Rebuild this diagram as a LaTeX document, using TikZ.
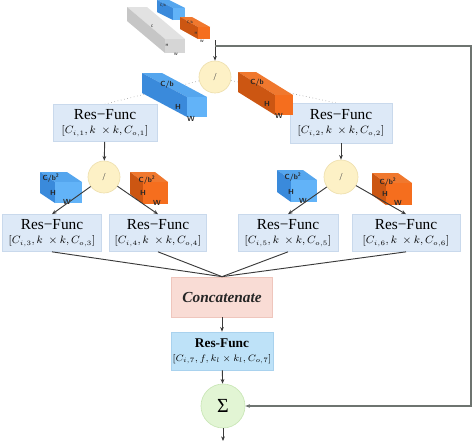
\documentclass[tikz,border=0pt]{standalone}
\usepackage{fontspec}
\setmainfont{Liberation Serif}
\usetikzlibrary{arrows.meta}
\definecolor{boxfill}{HTML}{DDE9F7}
\definecolor{boxline}{HTML}{C9D9EC}
\definecolor{box7fill}{HTML}{BEE2F8}
\definecolor{box7line}{HTML}{A9D2EE}
\definecolor{catfill}{HTML}{F9DCD5}
\definecolor{catline}{HTML}{EFC6BD}
\definecolor{divfill}{HTML}{FDF1C6}
\definecolor{divline}{HTML}{EEDFAE}
\definecolor{sumfill}{HTML}{E2F5D4}
\definecolor{sumline}{HTML}{C9E6B6}
\definecolor{btop}{HTML}{55A6EE}
\definecolor{bside}{HTML}{3A8ADB}
\definecolor{bfront}{HTML}{62B3F8}
\definecolor{otop}{HTML}{F0782E}
\definecolor{oside}{HTML}{CC5612}
\definecolor{ofront}{HTML}{F56E1E}
\definecolor{gtop}{HTML}{E2E2E2}
\definecolor{gside}{HTML}{C6C6C6}
\definecolor{gfront}{HTML}{D6D6D6}
\definecolor{conn}{HTML}{3A3A3A}
\definecolor{fb}{HTML}{6E7470}
\newcommand{\cuboid}[9]{%
  \fill[#7] (#1,#2) -- ({#1+#3},#2) -- ({#1+#3+#4},{#2+#5}) -- ({#1+#4},{#2+#5}) -- cycle;
  \fill[#8] (#1,#2) -- ({#1+#4},{#2+#5}) -- ({#1+#4},{#2+#5+#6}) -- (#1,{#2+#6}) -- cycle;
  \fill[#9] ({#1+#4},{#2+#5}) -- ({#1+#3+#4},{#2+#5}) -- ({#1+#3+#4},{#2+#5+#6}) -- ({#1+#4},{#2+#5+#6}) -- cycle;
}
\begin{document}
\begin{tikzpicture}[x=0.75pt,y=-0.75pt,
  resbox/.style={draw=boxline, fill=boxfill, line width=0.5pt, align=center, inner sep=1pt, minimum height=27.75pt},
  divc/.style={circle, draw=divline, fill=divfill, line width=0.5pt, minimum size=24pt, inner sep=0pt, font=\fontsize{8}{8}\selectfont, text=black!70},
  lbl/.style={font=\sffamily\bfseries\fontsize{5.5}{5.5}\selectfont, text=black!85, inner sep=0pt},
  tiny/.style={font=\sffamily\bfseries\fontsize{2.6}{2.6}\selectfont, text=black!80, inner sep=0pt},
  arr/.style={draw=conn, line width=0.7pt, -{Stealth[length=3.5pt,width=2.8pt]}},
  ln/.style={draw=conn, line width=0.7pt},
  dots/.style={draw=gray!70, line width=0.5pt, dotted}]
\useasboundingbox (0,0) rectangle (474,443);

% nodes
\node[divc] (c1) at (215,77) {/};
\node[divc] (c2) at (104,177) {/};
\node[divc, minimum size=25.5pt] (c3) at (341,177) {/};
\node[circle, draw=sumline, fill=sumfill, line width=0.5pt, minimum size=33pt, inner sep=0pt, font=\fontsize{15}{15}\selectfont] (sig) at (223,406) {Σ};

\newcommand{\rf}[1]{{\fontsize{11.5}{12}\selectfont Res−Func}\\[-1.5pt]{\fontsize{7.8}{8}\selectfont$[C_{i,#1},k\;\times k,C_{o,#1}]$}}

% dotted lines behind the blocks
\coordinate (t1) at (105,104);
\coordinate (t2) at (341,104);
\draw[dots] (c1) -- (t1);
\draw[dots] (c1) -- (t2);

\node[resbox, minimum width=78pt] (b1) at (105,123) {\rf{1}};
\node[resbox, minimum width=76.5pt, minimum height=30pt] (b2) at (341,123) {\rf{2}};
\node[resbox, minimum width=74.25pt] (b3) at (52,233) {\rf{3}};
\node[resbox, minimum width=72.75pt] (b4) at (158,233) {\rf{4}};
\node[resbox, minimum width=75pt] (b5) at (288,233) {\rf{5}};
\node[resbox, minimum width=81pt] (b6) at (406,233) {\rf{6}};
\node[draw=catline, fill=catfill, line width=0.5pt, minimum width=75.75pt, minimum height=30pt, font=\bfseries\itshape\fontsize{11.5}{13}\selectfont, text=black!85] (cat) at (222,297) {Concatenate};
\node[draw=box7line, fill=box7fill, line width=0.5pt, minimum width=75.75pt, minimum height=28.5pt, align=center, inner sep=1pt] (b7) at (222,351)
  {{\bfseries\fontsize{10}{11}\selectfont Res-Func}\\[-1.5pt]{\fontsize{7}{8}\selectfont$[C_{i,7},f,k_l\times k_l,C_{o,7}]$}};

% top stack of blocks
\cuboid{127}{7}{20}{38}{32}{14}{gtop}{gside}{gfront}
\cuboid{157}{0}{12}{16}{8}{12}{btop}{bside}{bfront}
\cuboid{180}{17}{12}{18}{10}{12}{otop}{oside}{ofront}
\node[tiny] (gC) at (152,26) {C};
\node[tiny] (gH) at (167,45) {H};
\node[tiny] (gW) at (176,54) {W};
\node[tiny] (uC) at (163,6) {C/b};
\node[tiny] (oC) at (190,23) {C/b};
\node[tiny] (oH) at (196,33) {H};
\node[tiny] (oW) at (202,41) {W};

% level-1 blocks
\cuboid{142}{73}{20}{45}{24}{20}{btop}{bside}{bfront}
\node[lbl] (l1a) at (167,85) {C/b};
\node[lbl] (l1b) at (178,107) {H};
\node[lbl] (l1c) at (191,119) {W};
\cuboid{238}{72}{18}{37}{23}{20}{otop}{oside}{ofront}
\node[lbl] (l2a) at (257,83) {C/b};
\node[lbl] (l2b) at (267,104) {H};
\node[lbl] (l2c) at (279,116) {W};

% level-2 cubes
\cuboid{40}{172}{27}{15}{10}{21}{btop}{bside}{bfront}
\node[lbl] (l3a) at (51,178) {C/b\textsuperscript{2}};
\node[lbl] (l3b) at (53,193) {H};
\node[lbl] (l3c) at (67,202) {W};
\cuboid{130}{172}{25}{13}{10}{22}{otop}{oside}{ofront}
\node[lbl] (l4a) at (147,180) {C/b\textsuperscript{2}};
\node[lbl] (l4b) at (143,193) {H};
\node[lbl] (l4c) at (157,203) {W};
\cuboid{277}{170}{26}{14}{10}{22}{btop}{bside}{bfront}
\node[lbl] (l5a) at (293,177) {C/b\textsuperscript{2}};
\node[lbl] (l5b) at (291,192) {H};
\node[lbl] (l5c) at (303,201) {W};
\cuboid{372}{173}{26}{14}{10}{22}{otop}{oside}{ofront}
\node[lbl] (l6a) at (388,182) {C/b\textsuperscript{2}};
\node[lbl] (l6b) at (385,194) {H};
\node[lbl] (l6c) at (398,203) {W};

% connectors
\coordinate (in) at (215,40);
\coordinate (fa) at (215,46);
\coordinate (fb1) at (471,46);
\coordinate (fb2) at (471,406);
\coordinate (out) at (223,441);
\draw[arr] (in) -- (c1);
\draw[draw=fb, line width=0.9pt, -{Stealth[length=3.5pt,width=2.8pt]}] (fa) -- (fb1) -- (fb2) -- (sig.east);
\draw[arr] (b1) -- (c2);
\draw[arr] (b2) -- (c3);
\draw[arr] (c2) -- (b3.north);
\draw[arr] (c2) -- (b4.north);
\draw[arr] (c3) -- (b5.north);
\draw[arr] (c3) -- (b6.north);
\draw[ln] (b3.south) -- (cat.north);
\draw[ln] (b4.south) -- (cat.north);
\draw[ln] (b5.south) -- (cat.north);
\draw[ln] (b6.south) -- (cat.north);
\draw[arr] (cat) -- (b7);
\draw[arr] (b7) -- (sig);
\draw[arr] (sig) -- (out);
\end{tikzpicture}
\end{document}
